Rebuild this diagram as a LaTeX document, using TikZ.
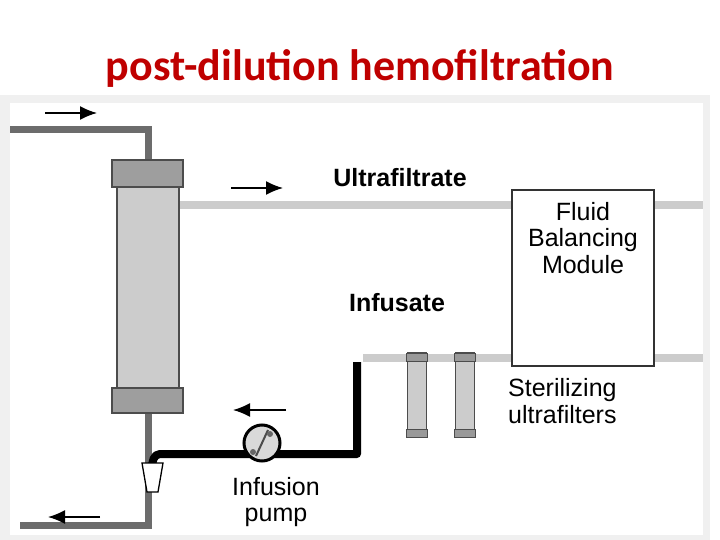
\documentclass[tikz,border=0pt]{standalone}
\usepackage{fontspec}
\usetikzlibrary{arrows.meta}
\setmainfont{Liberation Sans}
\newfontfamily\titlefont{Carlito}
\begin{document}
\begin{tikzpicture}[x=1pt,y=-1pt,
  blood/.style={draw=gray!85!black,line width=7pt},
  uf/.style={draw=black!20,line width=8pt},
  inf/.style={draw=black,line width=8pt,line join=round},
  flow/.style={-{Latex[length=17pt,width=14pt]},line width=1.6pt},
  capbox/.style={draw=black!70,fill=black!38,line width=1.5pt},
  body/.style={draw=black!70,fill=black!20,line width=1.5pt},
  lbl/.style={font=\fontsize{25}{26.5}\selectfont,align=center,inner sep=0pt},
  blbl/.style={font=\fontsize{25}{26.5}\selectfont\bfseries,inner sep=0pt}]
\useasboundingbox (0,0) rectangle (720,540);
\fill[white] (0,0) rectangle (720,540);
\fill[black!6] (0,95) rectangle (710,540);
\fill[white] (10,103) rectangle (703,535);
\node[font=\titlefont\fontsize{44}{48}\selectfont\bfseries,text=red!75!black] (title) at (360,68) {post-dilution hemofiltration};
% lines
\draw[blood] (10,130) -- (148,130) -- (148,162);
\draw[blood] (148,412) -- (148,525) -- (20,525);
\draw[uf] (179,205) -- (513,205);
\draw[uf] (654,205) -- (703,205);
\draw[uf] (363,358) -- (513,358);
\draw[uf] (654,358) -- (703,358);
% dialyzer
\node[body,minimum width=62pt,minimum height=201pt,inner sep=0pt] (dz) at (148,287.5) {};
\node[capbox,minimum width=71pt,minimum height=27pt,inner sep=0pt] (tc) at (147.5,173.5) {};
\node[capbox,minimum width=71pt,minimum height=25pt,inner sep=0pt] (bc) at (147.5,400.5) {};
% infusion
\coordinate (i1) at (357,362);
\coordinate (i2) at (357,454);
\coordinate (i3) at (160,454);
\coordinate (i4) at (152,468);
\draw[inf] (i1) -- (i2) -- (i3) to[out=180,in=90] (i4);
\node[draw=black,line width=3pt,fill=black!15,circle,minimum size=36pt,inner sep=0pt] (pump) at (262,443) {};
\draw[black!70,line width=2pt] (256,456) -- (268,430);
\fill[black!60] (253,452) circle (3) (270,434) circle (3);
\draw[black,line width=1.3pt,fill=white] (142,463) -- (163,463) -- (158,492) -- (147,492) -- cycle;
% arrows
\draw[flow] (45,113) -- (97,113);
\draw[flow] (231,188) -- (283,188);
\draw[flow] (286,410) -- (233,410);
\draw[flow] (100,517) -- (48,517);
% filters
\foreach \n/\x in {fa/417,fb/465}{
  \node[body,minimum width=19pt,minimum height=84pt,inner sep=0pt] (\n) at (\x,395) {};
  \fill[black!40,draw=black!70,line width=1pt] (\x-10.5,353) rectangle (\x+10.5,361);
  \fill[black!40,draw=black!70,line width=1pt] (\x-10.5,429) rectangle (\x+10.5,437);
}
% module
\node[draw=black!80,line width=1.5pt,fill=white,minimum width=142pt,minimum height=176pt,inner sep=0pt] (fbm) at (583,278) {};
\node[lbl,anchor=north] (fbmt) at (583,202) {Fluid\\Balancing\\Module};
% labels
\node[blbl] (ufl) at (400,178) {Ultrafiltrate};
\node[blbl] (infl) at (397,303) {Infusate};
\node[lbl,align=left,anchor=west] (steril) at (508,401) {Sterilizing\\ultrafilters};
\node[lbl] (pumpl) at (276,502) {Infusion\\pump};
\end{tikzpicture}
\end{document}
